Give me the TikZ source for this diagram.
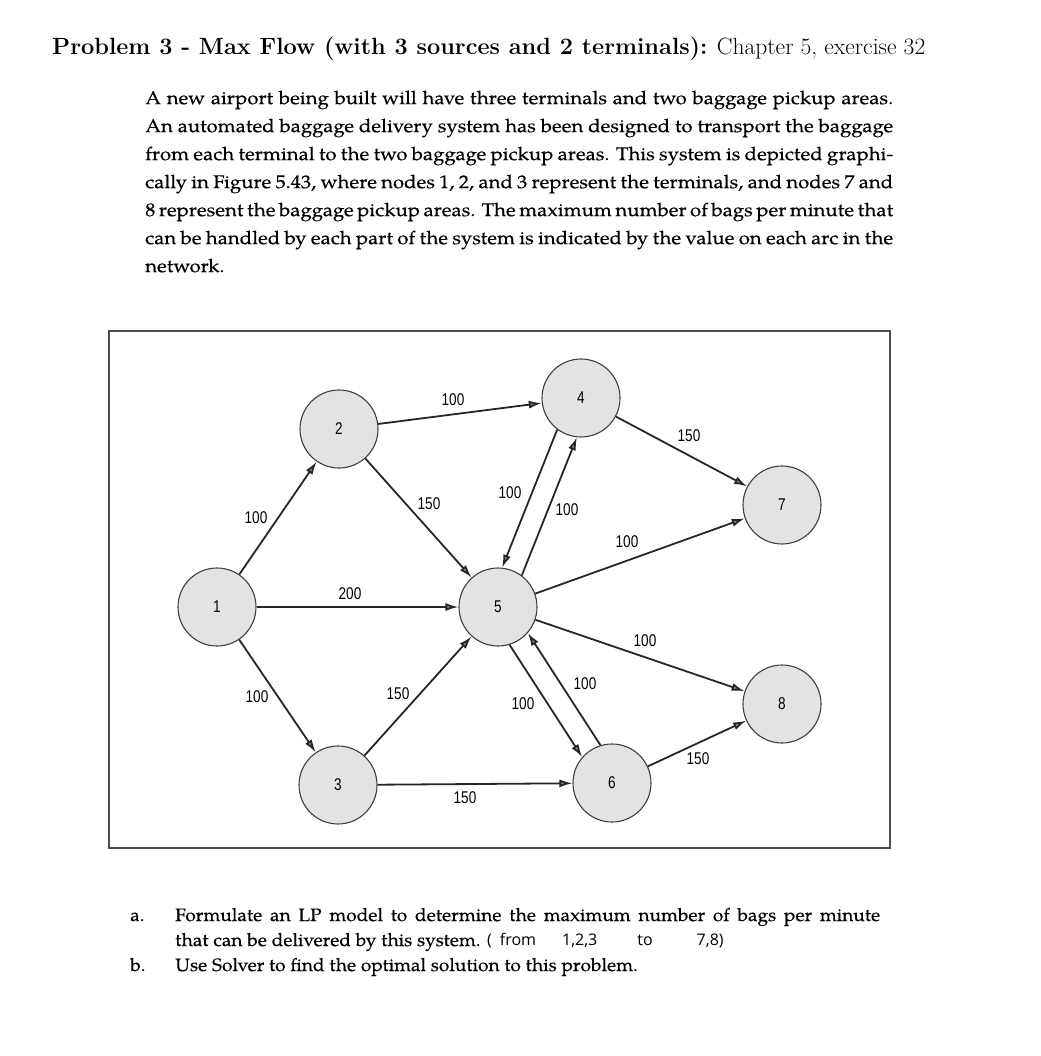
\documentclass[tikz,border=0pt]{standalone}
\usepackage{fontspec}
\newfontfamily\palfont[Extension=.otf,UprightFont=*-regular,BoldFont=*-bold,ItalicFont=*-italic,FakeStretch=1.1,FakeBold=0.3]{texgyrepagella}
\newfontfamily\qfont[Extension=.otf,UprightFont=*-regular,FakeStretch=1.06,FakeBold=0.3]{texgyrepagella}
\newfontfamily\numfont[FakeStretch=0.8]{Liberation Sans}
\newfontfamily\handfont{Open Sans}
\usetikzlibrary{arrows.meta,calc}

\begin{document}
\begin{tikzpicture}[x=1pt,y=-1pt,
  term/.style={circle, draw=black!75, line width=1.1pt, fill=black!11, minimum size=78pt, inner sep=0pt, font=\numfont\fontsize{17}{17}\selectfont},
  flow/.style={line width=1.8pt, draw=black!85, -{Latex[length=13pt,width=8pt,fill=black!45]}},
  capl/.style={font=\numfont\fontsize{17}{17}\selectfont, inner sep=0pt},
  textblock/.style={font=\palfont\fontsize{18.5}{28}\selectfont, inner sep=0pt, anchor=north west, align=justify}]

\useasboundingbox (0,0) rectangle (1040,1056);

% heading and problem text
\node[anchor=base west, inner sep=0pt] (title) at (52,55) {\fontsize{23.5}{28}\selectfont\textbf{Problem 3 - Max Flow (with 3 sources and 2 terminals):} Chapter 5, exercise 32};

\node[textblock, text width=748pt] (intro) at (145,90.5) {A new airport being built will have three terminals and two baggage pickup areas.\linebreak
An automated baggage delivery system has been designed to transport the baggage\linebreak
from each terminal to the two baggage pickup areas. This system is depicted graphi-\linebreak
cally in Figure 5.43, where nodes 1, 2, and 3 represent the terminals, and nodes 7 and\linebreak
8 represent the baggage pickup areas. The maximum number of bags per minute that\linebreak
can be handled by each part of the system is indicated by the value on each arc in the\linebreak
network.};

% figure frame
\draw[line width=1.2pt, draw=black!70] (109,331) rectangle (890,848);

% terminals, junctions, pickup areas
\node[term] (n1) at (217,607) {1};
\node[term] (n2) at (339,429) {2};
\node[term] (n3) at (338,785) {3};
\node[term] (n4) at (581,398) {4};
\node[term] (n5) at (498,607) {5};
\node[term] (n6) at (612,783) {6};
\node[term] (n7) at (782,505) {7};
\node[term] (n8) at (782,704) {8};

% arcs
\draw[flow] (n1) -- (n2);
\draw[flow] (n1) -- (n5);
\draw[flow] (n1) -- (n3);
\draw[flow] (n2) -- (n4);
\draw[flow] (n2) -- (n5);
\draw[flow] (n4.233) -- (n5.84);
\draw[flow] (n5.53) -- (n4.264);
\draw[flow] (n4) -- (n7);
\draw[flow] (n5) -- (n7);
\draw[flow] (n5) -- (n8);
\draw[flow] (n5.287) -- (n6.139);
\draw[flow] (n6.107) -- (n5.319);
\draw[flow] (n3) -- (n5);
\draw[flow] (n3) -- (n6);
\draw[flow] (n6) -- (n8);

% capacities
\node[capl] (l12) at (256,518) {100};
\node[capl] (l15) at (350,594) {200};
\node[capl] (l13) at (257,697) {100};
\node[capl] (l24) at (453,400) {100};
\node[capl] (l25) at (429,504) {150};
\node[capl] (l45) at (510,493) {100};
\node[capl] (l54) at (567,510) {100};
\node[capl] (l47) at (689,436) {150};
\node[capl] (l57) at (627,542) {100};
\node[capl] (l58) at (645,641) {100};
\node[capl] (l56) at (523,704) {100};
\node[capl] (l65) at (585,684) {100};
\node[capl] (l35) at (398,694) {150};
\node[capl] (l36) at (465,798) {150};
\node[capl] (l68) at (698,759) {150};

% questions
\node[anchor=base west, inner sep=0pt, font=\qfont\fontsize{18}{25}\selectfont] (parts) at (130,921) {\begin{tabular}[t]{@{}p{45pt}@{}p{705pt}@{}}
a. & Formulate an LP model to determine the maximum number of bags per minute\linebreak that can be delivered by this system.\\
b. & Use Solver to find the optimal solution to this problem.
\end{tabular}};
\node[anchor=base west, inner sep=0pt, font=\handfont\fontsize{16}{16}\selectfont] (note) at (487,945) {(\hspace{8pt}from\hspace{26pt}1,2,3\hspace{40pt}to\hspace{44pt}7,8)};

\end{tikzpicture}
\end{document}
